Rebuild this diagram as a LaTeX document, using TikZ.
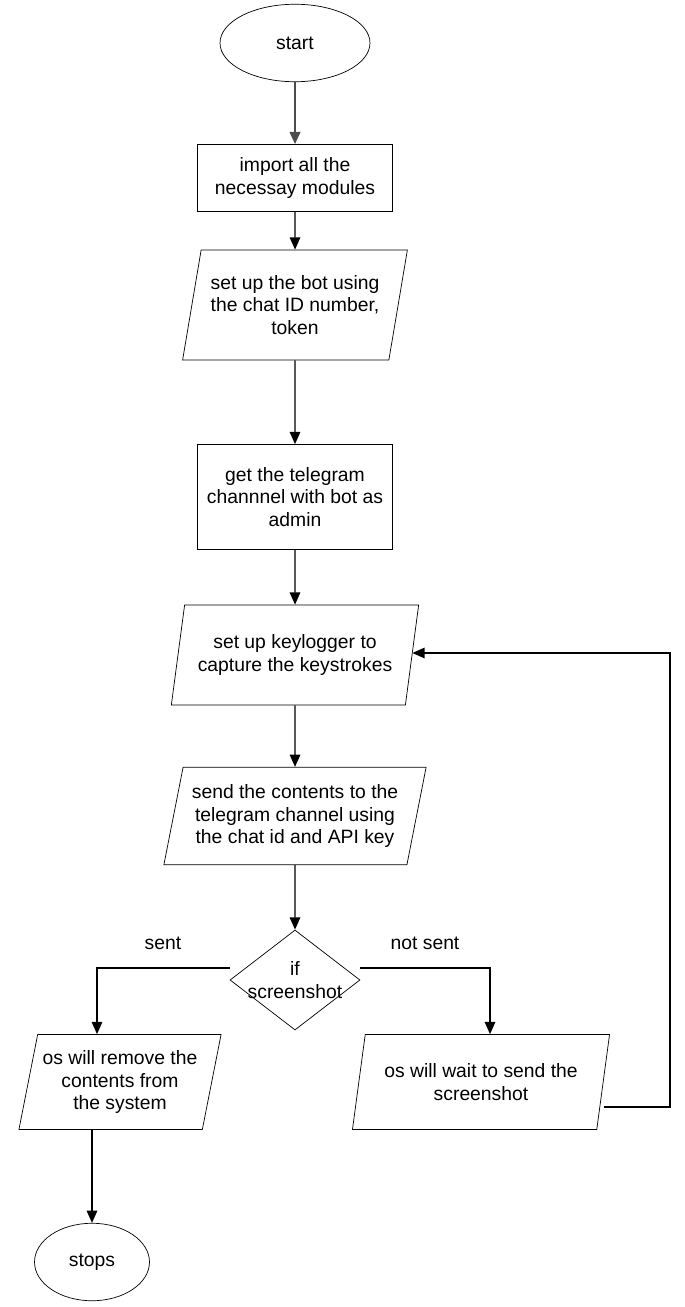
\documentclass[tikz,border=0pt]{standalone}
\usepackage{fontspec}
\setmainfont{Liberation Sans}
\usetikzlibrary{shapes.geometric}
\usetikzlibrary{arrows.meta}
\tikzset{
    term/.style = {ellipse, draw=black, minimum width=#1, minimum height=1.55cm, inner sep=0pt},
    proc/.style = {rectangle, draw=black, minimum width=3.9cm, align=center, inner sep=2pt},
    io/.style = {trapezium, trapezium left angle=75, trapezium right angle=105, trapezium stretches=true, draw=black, align=center, inner sep=1pt},
    test/.style = {diamond, draw=black, minimum width=2.6cm, minimum height=2cm, align=center, inner sep=-9pt},
    edgen/.style = {-{Triangle[length=7pt,width=6pt]}, thick},
    every picture/.style={font issue=\fontsize{11pt}{13pt}},
    font issue/.style={execute at begin picture={#1\selectfont}}
}
\begin{document}
\begin{tikzpicture}[x=0.02cm,y=-0.02cm]
\useasboundingbox (0,0) rectangle (685,1307);
%
\node[term=3cm] at (295,43) (start) {start};
\node[proc, minimum height=1.34cm] at (295,178) (imp) {import all the\\necessay modules};
\node[io, minimum width=4.5cm, minimum height=2.2cm] at (295,305) (bot) {set up the bot using\\the chat ID number,\\token};
\node[proc, minimum height=2.1cm] at (295,497) (chan) {get the telegram\\channnel with bot as\\admin};
\node[io, minimum width=4.95cm, minimum height=2cm] at (295,655) (klog) {set up keylogger to\\capture the keystrokes};
\node[io, minimum width=5.25cm, minimum height=1.95cm] at (295,816) (send) {send the contents to the\\telegram channel using\\the chat id and API key};
\node[test] at (295,980) (scr) {if\\screenshot};
\node[io, minimum width=4.05cm, minimum height=1.9cm] at (120,1082) (rem) {os will remove the\\contents from\\the system};
\node[io, minimum width=5.15cm, minimum height=1.9cm] at (481,1082) (wait) {os will wait to send the\\screenshot};
\node[term=2.3cm] at (92,1262) (stop) {stops};
\node at (163,943) (lsent) {sent};
\node at (425,943) (lnot) {not sent};
\coordinate (c1) at (97,968);
\coordinate (c2) at (490,968);
\coordinate (c3) at (670,1107);
\coordinate (c4) at (670,653);
%
\draw[edgen,draw=black!70,fill=black!70,line width=1.4pt] (start) -- (imp);
\draw[edgen] (imp) -- (bot);
\draw[edgen] (bot) -- (chan);
\draw[edgen] (chan) -- (klog);
\draw[edgen] (klog) -- (send);
\draw[edgen] (send) -- (scr);
\draw[edgen] (scr.west |- c1) -- (c1) -- (c1 |- rem.north);
\draw[edgen] (scr.east |- c2) -- (c2) -- (c2 |- wait.north);
\draw[edgen] (rem.south -| stop) -- (stop);
\draw[edgen] (wait.east |- c3) -- (c3) -- (c4) -- (klog.east |- c4);
\end{tikzpicture}
\end{document}
